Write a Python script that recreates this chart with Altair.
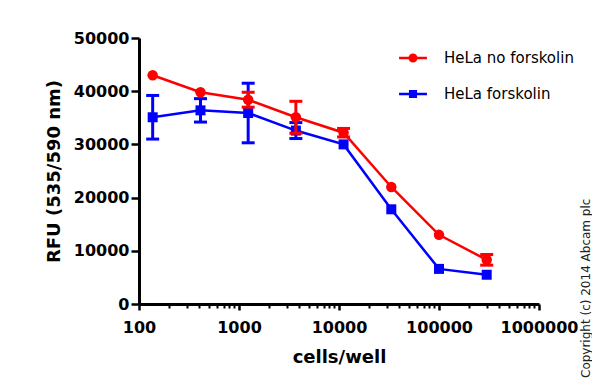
import altair as alt
import pandas as pd

cells = [137, 412, 1235, 3704, 11111, 33333, 100000, 300000]
series_names = ["HeLa no forskolin", "HeLa forskolin"]
series_colors = ["#FF0000", "#0000FF"]

red_mean = [43000, 39800, 38400, 35100, 32200, 22000, 13000, 8300]
red_sd = [0, 0, 1400, 3000, 800, 0, 0, 1000]
blue_mean = [35100, 36400, 35900, 32600, 30000, 17800, 6600, 5500]
blue_sd = [4100, 2200, 5600, 1500, 0, 0, 0, 0]

y_ticks = [0, 10000, 20000, 30000, 40000, 50000]
x_major = [100, 1000, 10000, 100000, 1000000]
x_minor = [m * d for d in [100, 1000, 10000, 100000] for m in range(2, 10)]

rows = []
for name, means, sds in [(series_names[1], blue_mean, blue_sd), (series_names[0], red_mean, red_sd)]:
    for c, m, s in zip(cells, means, sds):
        rows.append({"series": name, "cells": c, "rfu": m, "lo": m - s, "hi": m + s})
df = pd.DataFrame(rows)

FONT = "DejaVu Sans"
major_test = "abs(log(datum.value)/LN10 - round(log(datum.value)/LN10)) < 0.000001"

x_scale = alt.Scale(type="log", domain=[100, 1000000], nice=False)
y_scale = alt.Scale(domain=[0, 50000], nice=False)
col_scale = alt.Scale(domain=series_names, range=series_colors)

circle_path = "M-0.93,-0.09H0.93V0.09H-0.93ZM0.3,0A0.3,0.3,0,1,1,-0.3,0A0.3,0.3,0,1,1,0.3,0Z"
square_path = "M-0.93,-0.09H0.93V0.09H-0.93ZM-0.27,-0.27H0.27V0.27H-0.27Z"
legend_shape_scale = alt.Scale(domain=series_names, range=[circle_path, square_path])

x_axis = alt.Axis(
    values=x_major + x_minor, title="cells/well", grid=False,
    labelExpr="(" + major_test + ") ? format(datum.value, 'd') : ''",
    labelOverlap=False, labelFlush=False,
    tickSize={"condition": {"test": major_test, "value": 6}, "value": 4},
    tickWidth={"condition": {"test": major_test, "value": 2.5}, "value": 2},
    tickColor="black", domainColor="black", domainWidth=3,
    labelFont=FONT, labelFontWeight="bold", labelFontSize=16, labelColor="black",
    labelPadding=9, titleFont=FONT, titleFontWeight="bold", titleFontSize=18,
    titleColor="black", titlePadding=13,
)
y_axis = alt.Axis(
    values=y_ticks, format="d", title="RFU (535/590 nm)", grid=False,
    tickSize=8, tickWidth=2.5, tickColor="black", domainColor="black", domainWidth=3,
    labelFont=FONT, labelFontWeight="bold", labelFontSize=16, labelColor="black",
    labelPadding=2, titleFont=FONT, titleFontWeight="bold", titleFontSize=18,
    titleColor="black", titlePadding=10,
)

legend = alt.Legend(
    title=None, orient="none", legendX=259, legendY=5,
    labelFont=FONT, labelFontSize=15, labelColor="black", labelOffset=16,
    symbolSize=900, symbolStrokeWidth=0, symbolOpacity=1, rowPadding=13,
)

# legend carrier: no rows drawn, legend built from the explicit scale domains
legend_layer = alt.Chart(df).transform_filter("false").mark_point(
    filled=True, opacity=1
).encode(
    x=alt.X("cells:Q", scale=x_scale, axis=x_axis),
    y=alt.Y("rfu:Q", scale=y_scale, axis=y_axis),
    color=alt.Color("series:N", scale=col_scale, legend=legend),
    shape=alt.Shape("series:N", scale=legend_shape_scale, legend=legend),
)

no_leg = alt.Color("series:N", scale=col_scale, legend=None)

def series_layers(name, point_mark, point_size):
    base = alt.Chart(df).transform_filter(alt.datum.series == name)
    err_base = base.transform_filter(alt.datum.hi > alt.datum.lo)
    line = base.mark_line(strokeWidth=2.5).encode(x="cells:Q", y="rfu:Q", color=no_leg)
    err = err_base.mark_rule(strokeWidth=3).encode(x="cells:Q", y="lo:Q", y2="hi:Q", color=no_leg)
    cap_lo = err_base.mark_tick(orient="horizontal", size=13, thickness=3, opacity=1).encode(
        x="cells:Q", y="lo:Q", color=no_leg)
    cap_hi = err_base.mark_tick(orient="horizontal", size=13, thickness=3, opacity=1).encode(
        x="cells:Q", y="hi:Q", color=no_leg)
    pts = getattr(base, point_mark)(size=point_size, opacity=1).encode(
        x="cells:Q", y="rfu:Q", color=no_leg)
    return [line, err, cap_lo, cap_hi, pts]

copyright_df = pd.DataFrame({"t": ["Copyright (c) 2014 Abcam plc"]})
copy_text = alt.Chart(copyright_df).mark_text(
    angle=270, align="left", baseline="middle", font=FONT, fontSize=12, color="#222222"
).encode(text="t:N", x=alt.value(447), y=alt.value(340))

chart = alt.layer(
    legend_layer,
    *series_layers(series_names[1], "mark_square", 100),
    *series_layers(series_names[0], "mark_circle", 110),
    copy_text,
).properties(
    width=400, height=266,
    autosize=alt.AutoSizeParams(type="none"),
    padding={"left": 131, "top": 30, "right": 53, "bottom": 80},
).configure(background="white").configure_view(stroke=None)

chart.save("out.html", embed_options={"renderer": "svg", "actions": False})
